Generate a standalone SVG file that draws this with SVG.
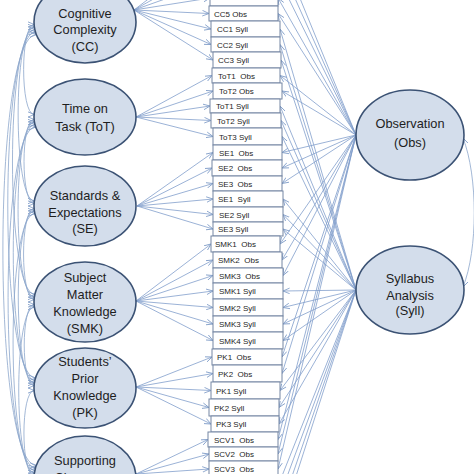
<svg xmlns="http://www.w3.org/2000/svg" width="474" height="474" viewBox="0 0 474 474">
<style>
.bg{fill:#ffffff}
.ell{fill:#d3ddeb;stroke:#3b5274;stroke-width:1.6}
.et{font-family:"Liberation Sans",Arial,sans-serif;font-size:12.8px;fill:#1e1e1e;text-anchor:middle}
.box{fill:#ffffff;stroke:#7486a3;stroke-width:1}
.bt{font-family:"Liberation Sans",Arial,sans-serif;font-size:8px;fill:#1e1e1e;white-space:pre}
.ln{fill:none;stroke:#819ecb;stroke-width:0.8;marker-end:url(#ah)}
.arc{fill:none;stroke:#8ba6cc;stroke-width:0.8;marker-start:url(#ah);marker-end:url(#ah)}
</style>
<defs>
<marker id="ah" viewBox="0 0 10 10" refX="9.5" refY="5" markerWidth="7" markerHeight="7" markerUnits="userSpaceOnUse" orient="auto-start-reverse">
<path d="M0,1 L9.5,5 L0,9" fill="none" stroke="#7f9cc7" stroke-width="1.2"/>
</marker>
</defs>
<rect class="bg" x="0" y="0" width="474" height="474"/>
<g id="connectors">
<path class="arc" d="M34.2,24.5 C20.1,24.5 20.1,114.5 34.2,114.5"/>
<path class="arc" d="M34.4,27 C12.7,27 12.7,201 34.4,201"/>
<path class="arc" d="M34.9,29.5 C5,29.5 5,294.5 34.9,294.5"/>
<path class="arc" d="M35.6,32 C-1.5,32 -1.5,378 35.6,378"/>
<path class="arc" d="M36.5,34.5 C-8.3,34.5 -8.3,465.5 36.5,465.5"/>
<path class="arc" d="M34.2,119.5 C20.6,119.5 20.6,203.5 34.2,203.5"/>
<path class="arc" d="M34.4,122 C12.6,122 12.6,297 34.4,297"/>
<path class="arc" d="M35,124.5 C6,124.5 6,380.5 35,380.5"/>
<path class="arc" d="M35.6,127 C-1.1,127 -1.1,468 35.6,468"/>
<path class="arc" d="M34.2,208.5 C20,208.5 20,299.5 34.2,299.5"/>
<path class="arc" d="M34.4,211 C12.9,211 12.9,383 34.4,383"/>
<path class="arc" d="M34.9,213.5 C5.8,213.5 5.8,470.5 34.9,470.5"/>
<path class="arc" d="M34.2,304.5 C20.9,304.5 20.9,385.5 34.2,385.5"/>
<path class="arc" d="M34.4,307 C13.5,307 13.5,473 34.4,473"/>
<path class="arc" d="M34.2,390.5 C20.5,390.5 20.5,475.5 34.2,475.5"/>
<path class="arc" d="M463,287 C478,250 478,176 463,138"/>
<path class="ln" d="M134,10 L210,-48"/>
<path class="ln" d="M134,10 L210,-33"/>
<path class="ln" d="M134,10 L210,-17"/>
<path class="ln" d="M134,10 L210,-2"/>
<path class="ln" d="M134,10 L209,13.5"/>
<path class="ln" d="M134,10 L211,29"/>
<path class="ln" d="M134,10 L211,44.5"/>
<path class="ln" d="M134,10 L213,60"/>
<path class="ln" d="M136,117 L212,75.5"/>
<path class="ln" d="M136,117 L213,91"/>
<path class="ln" d="M136,117 L210,106"/>
<path class="ln" d="M136,117 L211,120.5"/>
<path class="ln" d="M136,117 L213,136.5"/>
<path class="ln" d="M137,206 L213,152.5"/>
<path class="ln" d="M137,206 L212,168"/>
<path class="ln" d="M137,206 L213,183.5"/>
<path class="ln" d="M137,206 L213,199"/>
<path class="ln" d="M137,206 L213,214.5"/>
<path class="ln" d="M137,206 L213,229"/>
<path class="ln" d="M136,301 L211,244"/>
<path class="ln" d="M136,301 L213,260"/>
<path class="ln" d="M136,301 L213,275.5"/>
<path class="ln" d="M136,301 L213,291"/>
<path class="ln" d="M136,301 L213,307.5"/>
<path class="ln" d="M136,301 L213,324"/>
<path class="ln" d="M136,301 L213,340.5"/>
<path class="ln" d="M136,387 L212,357"/>
<path class="ln" d="M136,387 L213,373.5"/>
<path class="ln" d="M136,387 L211,390.5"/>
<path class="ln" d="M136,387 L209,407.5"/>
<path class="ln" d="M136,387 L211,424"/>
<path class="ln" d="M136,474 L208,439.5"/>
<path class="ln" d="M136,474 L209,454"/>
<path class="ln" d="M136,474 L209,469"/>
<path class="ln" d="M356,135 L281,-48"/>
<path class="ln" d="M356,135 L281,-33"/>
<path class="ln" d="M356,135 L281,-17"/>
<path class="ln" d="M356,135 L278,-2"/>
<path class="ln" d="M356,135 L278,13.5"/>
<path class="ln" d="M356,135 L280,75.5"/>
<path class="ln" d="M356,135 L282,91"/>
<path class="ln" d="M356,135 L282,152.5"/>
<path class="ln" d="M356,135 L282,168"/>
<path class="ln" d="M356,135 L282,183.5"/>
<path class="ln" d="M356,135 L280,244"/>
<path class="ln" d="M356,135 L282,260"/>
<path class="ln" d="M356,135 L283,275.5"/>
<path class="ln" d="M356,135 L282,357"/>
<path class="ln" d="M356,135 L282,373.5"/>
<path class="ln" d="M356,135 L278,439.5"/>
<path class="ln" d="M356,135 L278,454"/>
<path class="ln" d="M356,135 L278,469"/>
<path class="ln" d="M356,290 L280,29"/>
<path class="ln" d="M356,290 L280,44.5"/>
<path class="ln" d="M356,290 L281,60"/>
<path class="ln" d="M356,290 L280,106"/>
<path class="ln" d="M356,290 L281,120.5"/>
<path class="ln" d="M356,290 L282,136.5"/>
<path class="ln" d="M356,290 L283,199"/>
<path class="ln" d="M356,290 L283,214.5"/>
<path class="ln" d="M356,290 L283,229"/>
<path class="ln" d="M356,290 L283,291"/>
<path class="ln" d="M356,290 L283,307.5"/>
<path class="ln" d="M356,290 L283,324"/>
<path class="ln" d="M356,290 L283,340.5"/>
<path class="ln" d="M356,290 L280,390.5"/>
<path class="ln" d="M356,290 L279,407.5"/>
<path class="ln" d="M356,290 L279,424"/>
<path class="ln" d="M356,290 L278,486"/>
<path class="ln" d="M356,290 L278,501"/>
<path class="ln" d="M356,290 L278,517"/>
<path class="ln" d="M356,290 L278,532"/>
</g>
<g id="CC"><ellipse class="ell" cx="85" cy="22" rx="51" ry="41"/><text class="et" x="85" y="17.5">Cognitive</text><text class="et" x="85" y="34">Complexity</text><text class="et" x="85" y="50.5">(CC)</text></g>
<g id="ToT"><ellipse class="ell" cx="85" cy="117" rx="51" ry="38"/><text class="et" x="85" y="112.5">Time on</text><text class="et" x="85" y="130.5">Task (ToT)</text></g>
<g id="SE"><ellipse class="ell" cx="85" cy="206" rx="51" ry="40"/><text class="et" x="85" y="199.5">Standards &amp;</text><text class="et" x="85" y="216.5">Expectations</text><text class="et" x="85" y="233">(SE)</text></g>
<g id="SMK"><ellipse class="ell" cx="85" cy="302" rx="51" ry="40"/><text class="et" x="85" y="281.5">Subject</text><text class="et" x="85" y="298.5">Matter</text><text class="et" x="85" y="315.5">Knowledge</text><text class="et" x="85" y="332.5">(SMK)</text></g>
<g id="PK"><ellipse class="ell" cx="85" cy="388" rx="51" ry="40"/><text class="et" x="85" y="366">Students’</text><text class="et" x="85" y="382.5">Prior</text><text class="et" x="85" y="399.5">Knowledge</text><text class="et" x="85" y="416.5">(PK)</text></g>
<g id="SCV"><ellipse class="ell" cx="85" cy="478" rx="51" ry="42"/><text class="et" x="85" y="464.5">Supporting</text><text class="et" x="85" y="482">Classroom</text></g>
<g id="Obs"><ellipse class="ell" cx="410" cy="135" rx="54" ry="45"/><text class="et" x="410" y="127.5">Observation</text><text class="et" x="410" y="146.5">(Obs)</text></g>
<g id="Syll"><ellipse class="ell" cx="410" cy="290" rx="54" ry="44"/><text class="et" x="410" y="282.5">Syllabus</text><text class="et" x="410" y="299.5">Analysis</text><text class="et" x="410" y="315">(Syll)</text></g>
<g id="CC4_Obs"><rect class="box" x="210" y="-10" width="68" height="16"/></g>
<g id="CC5_Obs"><rect class="box" x="209" y="6" width="69" height="15"/><text class="bt" x="214" y="16.5">CC5 Obs</text></g>
<g id="CC1_Syll"><rect class="box" x="211" y="21" width="69" height="16"/><text class="bt" x="217" y="32">CC1 Syll</text></g>
<g id="CC2_Syll"><rect class="box" x="211" y="37" width="69" height="15"/><text class="bt" x="217" y="47.5">CC2 Syll</text></g>
<g id="CC3_Syll"><rect class="box" x="213" y="52" width="68" height="16"/><text class="bt" x="218" y="63">CC3 Syll</text></g>
<g id="ToT1_Obs"><rect class="box" x="212" y="68" width="68" height="15"/><text class="bt" x="218" y="78.5">ToT1  Obs</text></g>
<g id="ToT2_Obs"><rect class="box" x="213" y="83" width="69" height="16"/><text class="bt" x="219" y="94">ToT2 Obs</text></g>
<g id="ToT1_Syll"><rect class="box" x="210" y="99" width="70" height="14"/><text class="bt" x="216" y="109">ToT1 Syll</text></g>
<g id="ToT2_Syll"><rect class="box" x="211" y="113" width="70" height="15"/><text class="bt" x="217" y="123.5">ToT2 Syll</text></g>
<g id="ToT3_Syll"><rect class="box" x="213" y="128" width="69" height="17"/><text class="bt" x="219" y="139.5">ToT3 Syll</text></g>
<g id="SE1_Obs"><rect class="box" x="213" y="145" width="69" height="15"/><text class="bt" x="219" y="155.5">SE1  Obs</text></g>
<g id="SE2_Obs"><rect class="box" x="212" y="160" width="70" height="16"/><text class="bt" x="218" y="171">SE2  Obs</text></g>
<g id="SE3_Obs"><rect class="box" x="213" y="176" width="69" height="15"/><text class="bt" x="218" y="186.5">SE3  Obs</text></g>
<g id="SE1_Syll"><rect class="box" x="213" y="191" width="70" height="16"/><text class="bt" x="218" y="202">SE1  Syll</text></g>
<g id="SE2_Syll"><rect class="box" x="213" y="207" width="70" height="15"/><text class="bt" x="219" y="217.5">SE2 Syll</text></g>
<g id="SE3_Syll"><rect class="box" x="213" y="222" width="70" height="14"/><text class="bt" x="218" y="232">SE3 Syll</text></g>
<g id="SMK1_Obs"><rect class="box" x="211" y="236" width="69" height="16"/><text class="bt" x="215" y="247">SMK1  Obs</text></g>
<g id="SMK2_Obs"><rect class="box" x="213" y="252" width="69" height="16"/><text class="bt" x="218" y="263">SMK2  Obs</text></g>
<g id="SMK3_Obs"><rect class="box" x="213" y="268" width="70" height="15"/><text class="bt" x="219" y="278.5">SMK3  Obs</text></g>
<g id="SMK1_Syll"><rect class="box" x="213" y="283" width="70" height="16"/><text class="bt" x="219" y="294">SMK1 Syll</text></g>
<g id="SMK2_Syll"><rect class="box" x="213" y="299" width="70" height="17"/><text class="bt" x="219" y="310.5">SMK2 Syll</text></g>
<g id="SMK3_Syll"><rect class="box" x="213" y="316" width="70" height="16"/><text class="bt" x="219" y="327">SMK3 Syll</text></g>
<g id="SMK4_Syll"><rect class="box" x="213" y="332" width="70" height="17"/><text class="bt" x="219" y="343.5">SMK4 Syll</text></g>
<g id="PK1_Obs"><rect class="box" x="212" y="349" width="70" height="16"/><text class="bt" x="217" y="360">PK1  Obs</text></g>
<g id="PK2_Obs"><rect class="box" x="213" y="365" width="69" height="17"/><text class="bt" x="218" y="376.5">PK2  Obs</text></g>
<g id="PK1_Syll"><rect class="box" x="211" y="382" width="69" height="17"/><text class="bt" x="216" y="393.5">PK1 Syll</text></g>
<g id="PK2_Syll"><rect class="box" x="209" y="399" width="70" height="17"/><text class="bt" x="214" y="410.5">PK2 Syll</text></g>
<g id="PK3_Syll"><rect class="box" x="211" y="416" width="68" height="16"/><text class="bt" x="216" y="427">PK3 Syll</text></g>
<g id="SCV1_Obs"><rect class="box" x="208" y="432" width="70" height="15"/><text class="bt" x="214" y="442.5">SCV1  Obs</text></g>
<g id="SCV2_Obs"><rect class="box" x="209" y="447" width="69" height="14"/><text class="bt" x="214" y="457">SCV2  Obs</text></g>
<g id="SCV3_Obs"><rect class="box" x="209" y="461" width="69" height="16"/><text class="bt" x="214" y="472">SCV3  Obs</text></g>
</svg>
